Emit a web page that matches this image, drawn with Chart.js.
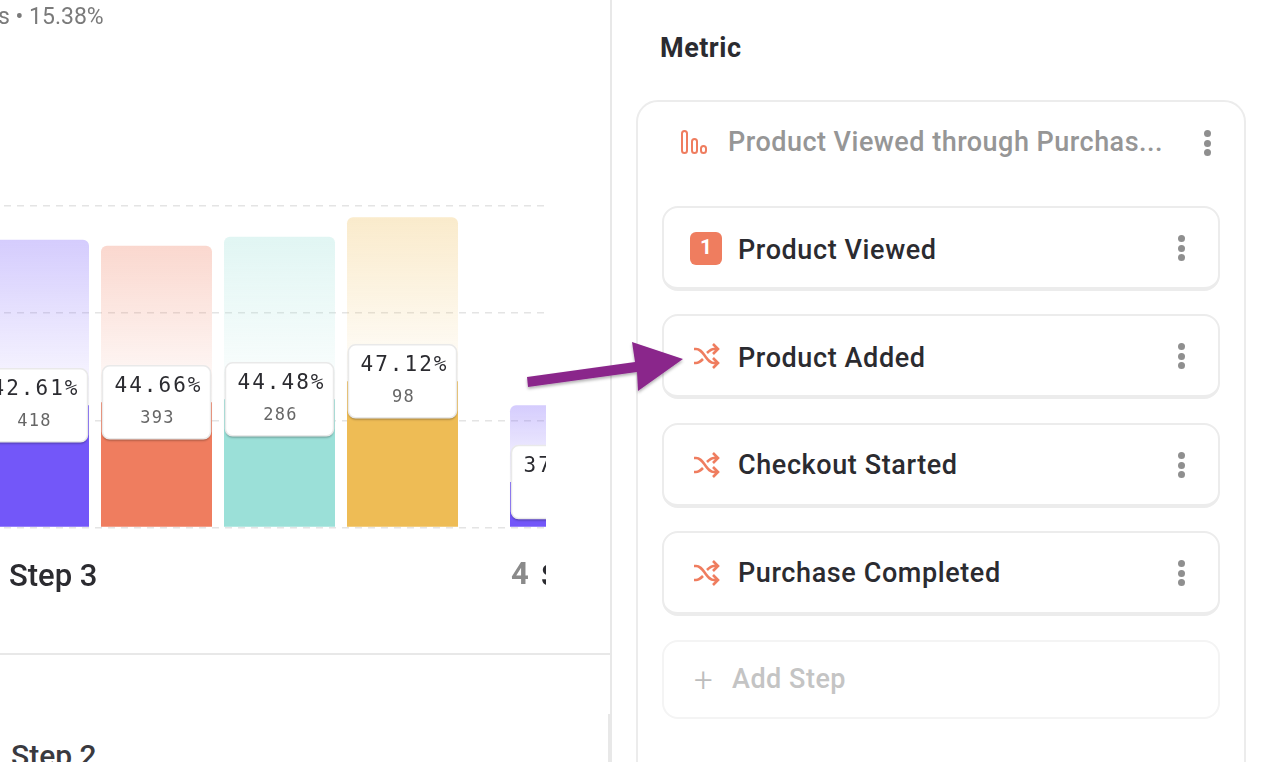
<!DOCTYPE html>
<html>
<head>
<meta charset="utf-8">
<script src="https://cdn.jsdelivr.net/npm/chart.js@4"></script>
<style>
  html, body { margin: 0; padding: 0; background: #fff; }
  body { width: 1264px; height: 762px; overflow: hidden; position: relative; font-family: Roboto, "Noto Sans", sans-serif; color: #2b2b30; }
  .abs { position: absolute; }
  #chartClip { position: absolute; left: 0; top: 0; width: 546px; height: 640px; overflow: hidden; }
  #chartWrap { position: absolute; left: -48px; top: 0; width: 1064px; height: 640px; }
  .card { position: absolute; box-sizing: border-box; left: 662px; width: 558px; height: 85px; background: #fff; border: 2px solid #ececec; border-bottom-width: 4px; border-radius: 16px; }
  .card .name { position: absolute; left: 74px; top: 26px; font-size: 27px; font-weight: 500; letter-spacing: .6px; line-height: 32px; color: #2b2b30; white-space: nowrap; }
  .dots { position: absolute; width: 6px; }
  .dots i { display: block; width: 7px; height: 7px; border-radius: 50%; background: #8f8f8f; margin-bottom: 2.5px; }
  .card .dots { left: 514px; top: 27px; }
  .card svg { position: absolute; left: 28px; top: 26px; }
</style>
</head>
<body>
<div id="chartClip"><div id="chartWrap"><canvas id="funnelChart" width="1064" height="640"></canvas></div></div>

<div class="abs" style="left:-2px;top:3px;font-size:23px;color:#7a7a7a;white-space:nowrap">s • 15.38%</div>

<div class="abs" style="left:0;top:653px;width:611px;height:2px;background:#e8e8e8"></div>
<div class="abs" style="left:610px;top:0;width:2px;height:762px;background:#e8e8e8"></div>
<div class="abs" style="left:608px;top:714px;width:3px;height:48px;background:#e8e8e8"></div>
<div class="abs" style="left:11px;top:738px;font-size:30px;font-weight:500;white-space:nowrap;color:#3a3a3f">Step 2</div>

<div class="abs" style="left:660px;top:32px;font-size:27px;font-weight:700;letter-spacing:.5px;color:#2b2b30">Metric</div>

<div class="abs" style="left:636px;top:100px;width:610px;height:700px;box-sizing:border-box;border:2px solid #ececec;border-radius:22px"></div>
<svg class="abs" style="left:680px;top:129px" width="28" height="28" viewBox="0 0 28 28" fill="none" stroke="#ef7d5f" stroke-width="2">
  <rect x="2" y="2" width="5" height="22" rx="2.5"/><rect x="12" y="10" width="5" height="14" rx="2.5"/><rect x="21" y="17" width="5" height="7" rx="2.5"/>
</svg>
<div class="abs" style="left:728px;top:126px;font-size:27px;font-weight:500;color:#969696;letter-spacing:.48px;white-space:nowrap">Product Viewed through Purchas...</div>
<div class="dots" style="left:1204px;top:130px"><i></i><i></i><i></i></div>

<div class="card" style="top:206px">
  <div style="position:absolute;left:26px;top:24px;width:32px;height:33px;background:#ef7d5f;border-radius:6px;color:#fff;font-weight:700;font-size:21px;text-align:center;line-height:31px">1</div>
  <div class="name">Product Viewed</div><div class="dots"><i></i><i></i><i></i></div>
</div>
<div class="card" style="top:314px">
  <svg width="28" height="28" viewBox="0 0 28 28" fill="none" stroke="#ef7d5f" stroke-width="2.6"><path d="M2 7h2c4 0 6 3 9 7s5 7 9 7h3M2 21h2c3 0 5-2 7-4M15 11c2-2 4-4 7-4h3M21 2l5 5-5 5M21 16l5 5-5 5"/></svg>
  <div class="name">Product Added</div><div class="dots"><i></i><i></i><i></i></div>
</div>
<div class="card" style="top:423px">
  <svg width="28" height="28" viewBox="0 0 28 28" fill="none" stroke="#ef7d5f" stroke-width="2.6"><path d="M2 7h2c4 0 6 3 9 7s5 7 9 7h3M2 21h2c3 0 5-2 7-4M15 11c2-2 4-4 7-4h3M21 2l5 5-5 5M21 16l5 5-5 5"/></svg>
  <div class="name" style="top:24px">Checkout Started</div><div class="dots"><i></i><i></i><i></i></div>
</div>
<div class="card" style="top:531px">
  <svg width="28" height="28" viewBox="0 0 28 28" fill="none" stroke="#ef7d5f" stroke-width="2.6"><path d="M2 7h2c4 0 6 3 9 7s5 7 9 7h3M2 21h2c3 0 5-2 7-4M15 11c2-2 4-4 7-4h3M21 2l5 5-5 5M21 16l5 5-5 5"/></svg>
  <div class="name" style="top:24px">Purchase Completed</div><div class="dots"><i></i><i></i><i></i></div>
</div>
<div class="abs" style="left:662px;top:640px;width:558px;height:79px;box-sizing:border-box;border:2px solid #f4f4f4;border-radius:16px"></div>
<div class="abs" style="left:694px;top:660px;font-size:33px;font-weight:300;color:#bdbdbd;white-space:nowrap">+</div>
<div class="abs" style="left:732px;top:663px;font-size:27px;font-weight:500;color:#c4c4c4;letter-spacing:.5px;white-space:nowrap">Add Step</div>

<svg class="abs" style="left:510px;top:330px" width="190" height="80" viewBox="0 0 190 80">
  <defs><filter id="s" x="-10%" y="-20%" width="120%" height="150%"><feDropShadow dx="0" dy="2" stdDeviation="1.5" flood-color="#000" flood-opacity=".3"/></filter></defs>
  <polygon filter="url(#s)" fill="#8a288b" points="17,47 125,32 122,12 173,29 128,61 127,42 18,57"/>
</svg>

<script>
const stepLabels = ["Step 3", "Step 4"];
const stepRanks = ["3", "4"];
const seriesColors = ["#7357f9", "#ef7d5f", "#9be0d8", "#eebc55"];
const ghostColors = ["115,87,249", "239,125,95", "155,224,216", "238,188,85"];

// what reached the step (faded part of the bar)
const enteredA = [67.1, 65.7, 67.8, 72.4];
const enteredB = [28.5, 29.2, 29.9, 34.1];
// what converted (solid part)
const convertedA = [28.5, 29.2, 29.9, 34.1];
const convertedB = [10.6, 10.7, 10.4, 11.9];
// card text
const percentA = ["42.61%", "44.66%", "44.48%", "47.12%"];
const percentB = ["37.19%", "36.64%", "34.78%", "34.69%"];
const countsA = ["418", "393", "286", "98"];
const countsB = ["155", "144", "99", "34"];

const datasets = [];
seriesColors.forEach(function (color, i) {
  datasets.push({
    label: "converted " + i,
    stack: "s" + i,
    data: [convertedA[i], convertedB[i]],
    backgroundColor: color,
    percents: [percentA[i], percentB[i]],
    counts: [countsA[i], countsB[i]]
  });
  datasets.push({
    label: "entered " + i,
    stack: "s" + i,
    data: [enteredA[i] - convertedA[i], enteredB[i] - convertedB[i]],
    borderRadius: { topLeft: 6, topRight: 6 },
    backgroundColor: function (c) {
      const y = c.chart.scales.y;
      const total = [enteredA, enteredB][c.dataIndex];
      const base = [convertedA, convertedB][c.dataIndex];
      if (!y || !total || !isFinite(y.getPixelForValue(0))) return color;
      const g = c.chart.ctx.createLinearGradient(0, y.getPixelForValue(total[i]), 0, y.getPixelForValue(base[i]));
      g.addColorStop(0, "rgba(" + ghostColors[i] + ",0.30)");
      g.addColorStop(1, "rgba(" + ghostColors[i] + ",0.02)");
      return g;
    }
  });
});

// rank number next to the step name, and the white cards over the bars
const stepCards = {
  id: "stepCards",
  afterDatasetsDraw: function (chart) {
    const ctx = chart.ctx;
    ctx.save();
    chart.data.datasets.forEach(function (ds, d) {
      if (!ds.percents) return;
      chart.getDatasetMeta(d).data.forEach(function (bar, n) {
        const w = 108, h = 73;
        const left = bar.x - w / 2, top = bar.y - h / 2;
        ctx.shadowColor = "rgba(0,0,0,0.28)";
        ctx.shadowBlur = 2;
        ctx.shadowOffsetY = 2;
        ctx.fillStyle = "#fff";
        ctx.strokeStyle = "#e9e9e9";
        ctx.lineWidth = 1.5;
        ctx.beginPath();
        ctx.roundRect(left, top, w, h, 7);
        ctx.fill();
        ctx.shadowColor = "transparent";
        ctx.stroke();
        ctx.textAlign = "center";
        ctx.textBaseline = "middle";
        ctx.fillStyle = "#2b2b30";
        ctx.font = "21px 'DejaVu Sans Mono'";
        ctx.letterSpacing = "2px";
        ctx.fillText(ds.percents[n], bar.x + 2, top + 21);
        ctx.fillStyle = "#666";
        ctx.font = "17px 'DejaVu Sans Mono'";
        ctx.letterSpacing = "1.2px";
        ctx.fillText(ds.counts[n], bar.x + 1, top + 53);
      });
    });
    const x = chart.scales.x;
    ctx.letterSpacing = "0px";
    ctx.textAlign = "left";
    ctx.textBaseline = "middle";
    ctx.fillStyle = "#8a8a8a";
    ctx.font = "700 31px Roboto";
    stepRanks.forEach(function (r, i) {
      ctx.fillText(r, x.getPixelForTick(i) - 239, 576);
    });
    ctx.restore();
  }
};

new Chart(document.getElementById("funnelChart"), {
  type: "bar",
  data: { labels: stepLabels, datasets: datasets },
  plugins: [stepCards],
  options: {
    responsive: false,
    animation: false,
    categoryPercentage: 0.9248,
    barPercentage: 0.9024,
    layout: { padding: { top: 206 } },
    plugins: { legend: { display: false }, tooltip: { enabled: false } },
    scales: {
      x: {
        stacked: true,
        grid: { display: false },
        border: { display: false },
        afterFit: function (s) { s.height = 112.5; },
        ticks: {
          align: "start",
          labelOffset: -209,
          maxRotation: 0,
          padding: 24,
          color: "#2b2b30",
          font: { family: "Roboto", size: 31, weight: "500" }
        }
      },
      y: {
        stacked: true,
        min: 0,
        max: 75,
        afterFit: function (s) { s.width = 0; },
        ticks: { display: false, stepSize: 25 },
        border: { display: false, dash: [7, 6] },
        grid: { color: "#e4e4e4", lineWidth: 1.5, drawTicks: false }
      }
    }
  }
});
</script>
</body>
</html>
